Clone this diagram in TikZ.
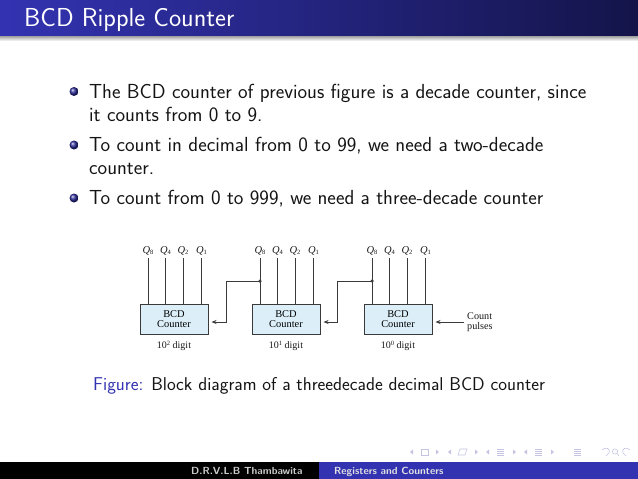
\documentclass[tikz,border=0pt]{standalone}
\usepackage{fontspec}
\newfontfamily\tmfont{Liberation Serif}
\usetikzlibrary{arrows.meta,shadings}
\definecolor{bblue}{HTML}{3333B2}
\definecolor{bdark}{HTML}{14144A}
\definecolor{navc}{HTML}{C4C4E2}
\definecolor{boxfill}{HTML}{DCEFF9}
\definecolor{wire}{HTML}{3A3A3A}
\tikzset{
  x=1pt,y=-1pt,
  body/.style={anchor=base west,inner sep=0,font=\sffamily\fontsize{20.35}{20.35}\selectfont,text=black!92},
  ball/.style={circle,minimum size=9,inner sep=0,ball color=bblue!85!black,shading=ball},
  bcd/.style={draw=wire,fill=boxfill,line width=1,minimum width=68,minimum height=30,inner sep=0,align=center,font=\tmfont\fontsize{10.4}{10.6}\selectfont,text=black},
  qlab/.style={inner sep=0,font=\tmfont\fontsize{10.5}{11}\selectfont,text=black!90},
  dlab/.style={inner sep=0,font=\tmfont\fontsize{10}{10}\selectfont,text=black!90},
  wireline/.style={draw=wire,line width=1},
  arrowline/.style={wireline,-{Stealth[length=5,width=4]},shorten >=3},
  dotj/.style={circle,fill=wire,inner sep=0,minimum size=3.5},
  foot/.style={anchor=base west,inner sep=0,font=\sffamily\bfseries\fontsize{10.3}{10.3}\selectfont},
  navi/.style={draw=navc,line width=.6,fill=none},
  navt/.style={fill=navc,draw=none}
}
\newcommand{\qq}[1]{\textit{Q}\kern-.3pt\raisebox{-1pt}{\fontsize{6.5}{7}\selectfont #1}}
\begin{document}
\begin{tikzpicture}
\useasboundingbox (0,0) rectangle (638,479);
% header
\shade[top color=black!45,bottom color=white] (0,35) rectangle (638,41);
\shade[left color=bblue,right color=bdark] (0,0) rectangle (638,35.5);
\node[anchor=base west,inner sep=0,text=white,font=\sffamily\fontsize{26}{26}\selectfont] (title) at (24,27) {BCD Ripple Counter};
% footer
\fill[black] (0,462) rectangle (319,479);
\fill[bblue] (319,462) rectangle (638,479);
\node[foot,text=black!20] (author) at (191,474.5) {D.R.V.L.B Thambawita};
\node[foot,text=black!12] (sect) at (334,474.5) {Registers and Counters};
% bullets
\node[ball] (b1) at (74,91.5) {};
\node[ball] (b2) at (74,145) {};
\node[ball] (b3) at (74,198) {};
\node[body] (t1) at (89,98) {The BCD counter of previous figure is a decade counter, since};
\node[body] (t1b) at (89,121) {it counts from 0 to 9.};
\node[body] (t2) at (89,151) {To count in decimal from 0 to 99, we need a two-decade};
\node[body] (t2b) at (89,174) {counter.};
\node[body] (t3) at (89,204) {To count from 0 to 999, we need a three-decade counter};
% boxes
\node[bcd] (A) at (174,319) {BCD\\Counter};
\node[bcd] (B) at (286,319) {BCD\\Counter};
\node[bcd] (C) at (398,319) {BCD\\Counter};
\node[dlab] (da) at (174,346) {10\raisebox{3.5pt}{\fontsize{6.5}{7}\selectfont 2} digit};
\node[dlab] (db) at (286,346) {10\raisebox{3.5pt}{\fontsize{6.5}{7}\selectfont 1} digit};
\node[dlab] (dc) at (398,346) {10\raisebox{3.5pt}{\fontsize{6.5}{7}\selectfont 0} digit};
% Q labels
\foreach \n/\o in {A/148,B/260,C/372}{
  \node[qlab] (\n8) at (\o,251) {\qq{8}};
  \node[qlab] (\n4) at (\o+17.5,251) {\qq{4}};
  \node[qlab] (\n2) at (\o+35,251) {\qq{2}};
  \node[qlab] (\n1) at (\o+53.5,251) {\qq{1}};
  \foreach \k in {8,4,2,1}
    \draw[wireline] (\n\k.center) ++(0,7) -- (\n\k.center |- \n.north);
}
% carries
\coordinate (jb) at (260,281);
\coordinate (jc) at (372,281);
\node[dotj] at (jb) {};
\node[dotj] at (jc) {};
\coordinate (ka) at (226,322);
\coordinate (kb) at (337,322);
\draw[arrowline] (jb) -| (ka) -- (A.east |- ka);
\draw[arrowline] (jc) -| (kb) -- (B.east |- kb);
% count pulses
\node[anchor=west,inner sep=0,align=left,font=\tmfont\fontsize{10.2}{10.4}\selectfont,text=black!90] (cp) at (467,322) {Count\\pulses};
\draw[arrowline,shorten <=3] (cp.west) -- (C.east |- cp.west);
% caption
\node[anchor=base west,inner sep=0,font=\sffamily\fontsize{18.56}{18.56}\selectfont,text=black!92] (cap) at (93,390) {\textcolor{bblue}{Figure:} Block diagram of a threedecade decimal BCD counter};
% navigation symbols
\foreach \x in {413,451,489,527}{\fill[navt] (\x,449.5) -- (\x,454.5) -- (\x-3,452) -- cycle;}
\foreach \x in {436,475,513,551}{\fill[navt] (\x,449.5) -- (\x,454.5) -- (\x+3,452) -- cycle;}
\draw[navi] (421,449) rectangle (428,455);
\draw[navi] (458,455) -- (460,449) -- (467,449) -- (465,455) -- cycle;
\foreach \x in {497,535,574}{\foreach \y in {449,451,453,455}{\draw[navi] (\x,\y) -- (\x+7,\y);}}
\draw[navi] (602,450) .. controls (606,446) and (611,449) .. (609,453) -- (606,456);
\draw[navi] (615,451.5) circle[radius=2.6];
\draw[navi] (617,453.5) -- (619,456);
\draw[navi] (630,450) .. controls (626,446) and (621,449) .. (623,453) -- (626,456);
\end{tikzpicture}
\end{document}
